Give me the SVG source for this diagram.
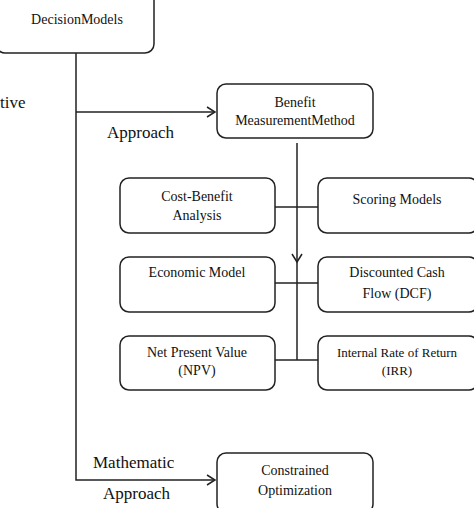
<svg xmlns="http://www.w3.org/2000/svg" width="474" height="508" viewBox="0 0 474 508">
<style>
.box{fill:#fff;stroke:#222;stroke-width:1.5}
.t{font-family:"Liberation Serif","Times New Roman",serif;font-size:14px;fill:#111;text-anchor:middle}
.s{font-size:13px}
.lbl{font-family:"Liberation Serif","Times New Roman",serif;font-size:17px;fill:#111}
.ln{fill:none;stroke:#222;stroke-width:1.5}
</style>
<defs>
<marker id="ah" markerWidth="12" markerHeight="12" refX="10" refY="6" orient="auto" markerUnits="userSpaceOnUse">
<path d="M2,1 L10,6 L2,11" fill="none" stroke="#222" stroke-width="1.5"/>
</marker>
</defs>
<g id="connectors">
<path class="ln" d="M76,53 V480 H215" marker-end="url(#ah)"/>
<path class="ln" d="M76,112 H215" marker-end="url(#ah)"/>
<path class="ln" d="M297,143 V262" marker-end="url(#ah)"/>
<path class="ln" d="M297,262 V360"/>
<path class="ln" d="M275,207 H318"/>
<path class="ln" d="M275,283 H318"/>
<path class="ln" d="M275,360 H318"/>
</g>
<g id="labels">
<text class="lbl" x="0" y="108">tive</text>
<text class="lbl" x="107" y="138">Approach</text>
<text class="lbl" x="93" y="468">Mathematic</text>
<text class="lbl" x="103" y="499">Approach</text>
</g>
<g id="decision"><rect class="box" x="-4" y="-12" width="158" height="65" rx="9"/><text class="t" x="77" y="24">DecisionModels</text></g>
<g id="benefit"><rect class="box" x="217" y="84" width="156" height="54" rx="9"/><text class="t" x="295" y="107">Benefit</text><text class="t" x="295" y="125">MeasurementMethod</text></g>
<g id="costbenefit"><rect class="box" x="120" y="178" width="155" height="55" rx="9"/><text class="t" x="197" y="201">Cost-Benefit</text><text class="t" x="197" y="220">Analysis</text></g>
<g id="scoring"><rect class="box" x="318" y="178" width="160" height="55" rx="9"/><text class="t" x="397" y="204">Scoring Models</text></g>
<g id="economic"><rect class="box" x="120" y="257" width="155" height="55" rx="9"/><text class="t" x="197" y="277">Economic Model</text></g>
<g id="dcf"><rect class="box" x="318" y="257" width="160" height="55" rx="9"/><text class="t" x="397" y="277">Discounted Cash</text><text class="t" x="397" y="298">Flow (DCF)</text></g>
<g id="npv"><rect class="box" x="120" y="336" width="155" height="54" rx="9"/><text class="t" x="197" y="357">Net Present Value</text><text class="t" x="197" y="375">(NPV)</text></g>
<g id="irr"><rect class="box" x="318" y="336" width="160" height="54" rx="9"/><text class="t s" x="397" y="357">Internal Rate of Return</text><text class="t s" x="397" y="375">(IRR)</text></g>
<g id="constrained"><rect class="box" x="217" y="453" width="156" height="60" rx="9"/><text class="t" x="295" y="475">Constrained</text><text class="t" x="295" y="495">Optimization</text></g>
</svg>
